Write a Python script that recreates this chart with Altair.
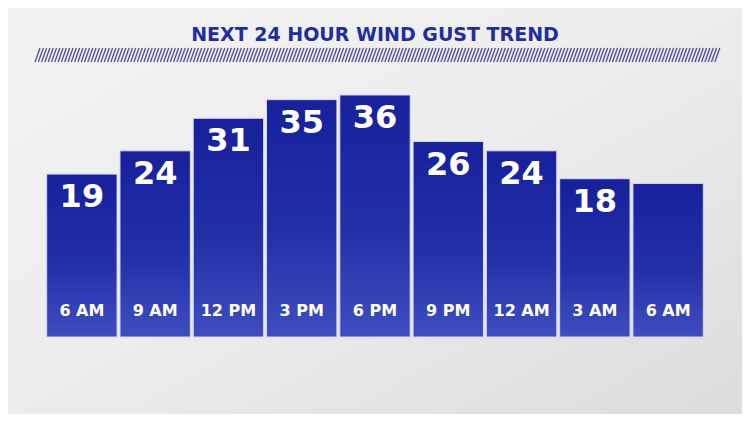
import altair as alt
import pandas as pd

# ---- data ----
times = ["6 AM", "9 AM", "12 PM", "3 PM", "6 PM", "9 PM", "12 AM", "3 AM", "6 AM "]
gusts = [19, 24, 31, 35, 36, 26, 24, 18, 17]
gust_labels = ["19", "24", "31", "35", "36", "26", "24", "18", ""]
title_text = "NEXT 24 HOUR WIND GUST TREND"

df = pd.DataFrame({"time": times, "gust": gusts, "label": gust_labels})

W, H = 734, 406
BASE = -16  # value at the bars' common bottom edge

xscale = alt.Scale(domain=times, range=[38.7, 695.3], paddingInner=0.04, paddingOuter=0)
yscale = alt.Scale(domain=[BASE, 36], range=[329, 87], zero=False, nice=False)

one = alt.Data(values=[{"a": 1}])

# background gradient
bg = alt.Chart(one).mark_rect(
    color=alt.Gradient(
        gradient="linear", x1=0, y1=0, x2=1, y2=1,
        stops=[alt.GradientStop(color="#f3f3f4", offset=0),
               alt.GradientStop(color="#ececed", offset=0.5),
               alt.GradientStop(color="#dcdcde", offset=1)],
    )
).encode(x=alt.value(0), x2=alt.value(W), y=alt.value(0), y2=alt.value(H))

# hatched band under the title
stripes = alt.Chart(alt.sequence(0, 207, 1, as_="i")).transform_calculate(
    xa="27 + datum.i * 3.3", xb="27 + datum.i * 3.3 + 5"
).mark_rule(color="#363e92", strokeWidth=1.3, opacity=0.9).encode(
    x=alt.X("xa:Q", scale=None), x2="xb:Q",
    y=alt.value(54), y2=alt.value(40),
)

title = alt.Chart(one).mark_text(
    text=title_text, font="DejaVu Sans",
    fontSize=19, fontWeight="bold", color="#1f2d9e", align="center", baseline="middle",
).encode(x=alt.value(367), y=alt.value(27))

base = alt.Chart(df)

bars = base.mark_bar(
    color=alt.Gradient(
        gradient="linear", x1=0, y1=0, x2=0, y2=1,
        stops=[alt.GradientStop(color="#18209c", offset=0),
               alt.GradientStop(color="#2230a8", offset=0.55),
               alt.GradientStop(color="#3e4ec0", offset=1)],
    ),
    stroke="#d4d7ee", strokeWidth=1, cornerRadius=0,
).encode(
    x=alt.X("time:N", scale=xscale, axis=None, sort=times),
    y=alt.Y("gust:Q", scale=yscale, axis=None),
    y2=alt.datum(BASE),
)

values = base.mark_text(
    font="DejaVu Sans", fontSize=32, fontWeight="bold", color="white",
    align="center", baseline="middle", dy=23,
).encode(
    x=alt.X("time:N", scale=xscale, sort=times),
    y=alt.Y("gust:Q", scale=yscale),
    text="label:N",
)

tlabels = base.mark_text(
    font="DejaVu Sans", fontSize=16, fontWeight="bold", color="white",
    align="center", baseline="middle",
).encode(
    x=alt.X("time:N", scale=xscale, sort=times),
    y=alt.value(303),
    text="time:N",
)

chart = alt.layer(bg, stripes, title, bars, values, tlabels).properties(
    width=W, height=H, padding=0, autosize=alt.AutoSizeParams(type="none"),
).configure_view(stroke=None).configure(background="#eeeeef")

chart.save("out.html", embed_options={"renderer": "svg", "actions": False})
